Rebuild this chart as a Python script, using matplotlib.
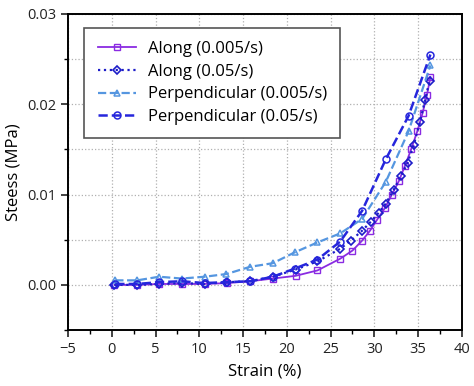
import matplotlib
matplotlib.use('Agg')
import matplotlib.pyplot as plt
from matplotlib.ticker import MultipleLocator

plt.rcParams['font.family'] = ['Open Sans', 'DejaVu Sans']

# ---- data ----
along_005_x = [0.3, 2.9, 5.4, 8.0, 10.6, 13.2, 15.8, 18.4, 21.0, 23.5, 26.1, 27.5,
               28.6, 29.5, 30.3, 31.2, 32.0, 32.8, 33.5, 34.2, 34.9, 35.5, 36.0, 36.4]
along_005_y = [0.0, 0.0, 0.0001, 0.0001, 0.0001, 0.0002, 0.0004, 0.0007, 0.0010, 0.0016,
               0.0029, 0.0038, 0.0049, 0.0060, 0.0072, 0.0085, 0.0100, 0.0115, 0.0132,
               0.0150, 0.0170, 0.0190, 0.0210, 0.0230]

along_05_x = [0.3, 2.9, 5.4, 8.0, 10.6, 13.2, 15.8, 18.4, 21.0, 23.5, 26.1, 27.3,
              28.6, 29.6, 30.5, 31.3, 32.2, 33.0, 33.8, 34.5, 35.2, 35.8, 36.3]
along_05_y = [0.0, 0.0, 0.0001, 0.0002, 0.0001, 0.0003, 0.0004, 0.0009, 0.0017, 0.0026,
              0.0040, 0.0049, 0.0060, 0.0070, 0.0080, 0.0090, 0.0105, 0.0120, 0.0135,
              0.0155, 0.0180, 0.0205, 0.0226]

perp_x = [0.4, 2.9, 5.4, 8.0, 10.6, 13.1, 15.8, 18.4, 20.9, 23.5, 26.1, 28.6, 31.3, 33.9, 36.4]
perp_005_y = [0.0005, 0.0005, 0.0009, 0.0007, 0.0009, 0.0012, 0.0020, 0.0024, 0.0036,
              0.0047, 0.0057, 0.0073, 0.0114, 0.0170, 0.0243]
perp_05_y = [0.0001, 0.0001, 0.0003, 0.0004, 0.0002, 0.0003, 0.0004, 0.0009, 0.0018,
             0.0028, 0.0048, 0.0082, 0.0139, 0.0187, 0.0255]

fig = plt.figure(figsize=(4.74, 3.86), dpi=100)
ax = fig.add_axes([0.1435, 0.145, 0.831, 0.819])

ax.plot(along_005_x, along_005_y, '-', color='#8a2be2', lw=1.3, marker='s', ms=4,
        mfc='none', mew=1.0, label='Along (0.005/s)')
ax.plot(along_05_x, along_05_y, ':', color='#1c1cc8', lw=1.6, marker='D', ms=4,
        mfc='none', mew=1.2, label='Along (0.05/s)')
ax.plot(perp_x, perp_005_y, '--', color='#5596e0', lw=1.6, marker='^', ms=5,
        mfc='none', mew=1.1, label='Perpendicular (0.005/s)')
ax.plot(perp_x, perp_05_y, '--', color='#2626dc', lw=1.8, marker='o', ms=5,
        mfc='none', mew=1.1, label='Perpendicular (0.05/s)')

ax.set_xlim(-5, 40)
ax.set_ylim(-0.005, 0.03)
ax.xaxis.set_major_locator(MultipleLocator(5))
ax.xaxis.set_minor_locator(MultipleLocator(2.5))
ax.yaxis.set_major_locator(MultipleLocator(0.01))
ax.yaxis.set_minor_locator(MultipleLocator(0.005))
ax.yaxis.set_major_formatter(matplotlib.ticker.FormatStrFormatter('%.2f'))

ax.grid(which='major', axis='both', color='#b0b0b0', ls=':', lw=0.9)
ax.grid(which='minor', axis='y', color='#b0b0b0', ls=':', lw=0.9)
ax.set_axisbelow(True)

ax.tick_params(which='major', direction='out', length=5, width=1.2, labelsize=10.5, colors='#222')
ax.tick_params(which='minor', direction='out', length=3, width=1.0)
for s in ax.spines.values():
    s.set_linewidth(1.4)

ax.set_xlabel('Strain (%)', fontsize=12, labelpad=5)
ax.set_ylabel('Steess (MPa)', fontsize=12, labelpad=4)

leg = ax.legend(loc='upper left', bbox_to_anchor=(0.041, 0.956), fontsize=12,
                fancybox=False, edgecolor='#555555', framealpha=1, borderaxespad=0,
                handlelength=2.3, borderpad=0.8, labelspacing=0.4, handletextpad=0.7)
leg.get_frame().set_linewidth(1.2)

fig.savefig('out.png', dpi=100)
